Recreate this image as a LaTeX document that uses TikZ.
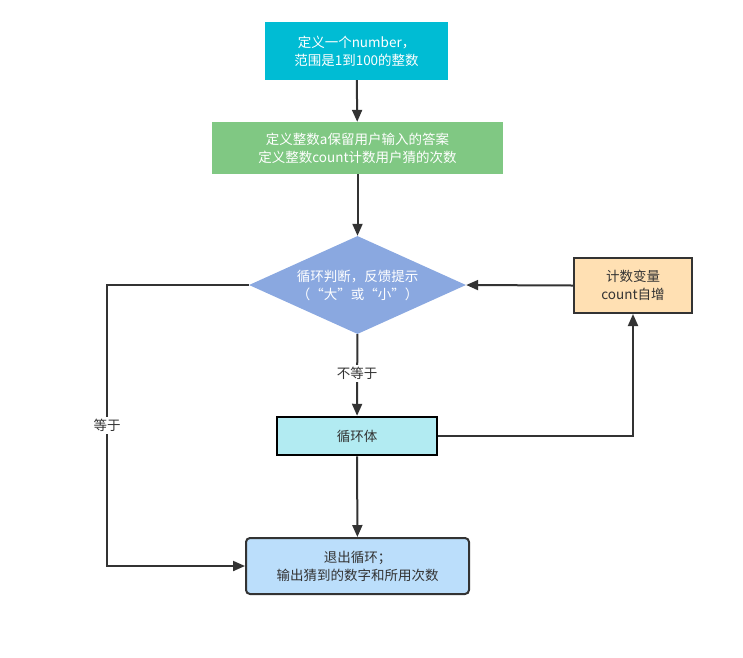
\documentclass[tikz,border=0pt]{standalone}
\usepackage{fontspec}
\setmainfont{Noto Sans CJK SC}
\usetikzlibrary{shapes.geometric,arrows.meta}
\definecolor{c1}{HTML}{00BCD4}
\definecolor{c2}{HTML}{80C883}
\definecolor{c3}{HTML}{8AA8E0}
\definecolor{c4}{HTML}{FFE0B3}
\definecolor{c5}{HTML}{B2EBF2}
\definecolor{c6}{HTML}{BBDEFB}
\definecolor{ln}{HTML}{333333}
\begin{document}
\begin{tikzpicture}[x=1pt,y=-1pt,
  font=\fontsize{13.5}{18}\selectfont,
  box/.style={draw=none,minimum width=#1,align=center,inner sep=0pt},
  arr/.style={draw=ln,line width=2pt,-{Triangle[length=12pt,width=10pt]}},
  lab/.style={fill=white,inner sep=2pt,text=ln}]
\useasboundingbox (0,0) rectangle (743,657);
\node[box=183pt,fill=c1,minimum height=58pt,text=white] (a) at (356.5,51) {定义一个number，\\范围是1到100的整数};
\node[box=291pt,fill=c2,minimum height=52pt,text=white] (b) at (357.5,148) {定义整数a保留用户输入的答案\\定义整数count计数用户猜的次数};
\node[diamond,fill=c3,minimum width=217pt,minimum height=98pt,aspect=2.2,inner sep=0pt,text=white,align=center] (c) at (357.5,285) {循环判断，反馈提示\\（“大”或“小”）};
\node[draw=ln,line width=2pt,fill=c4,minimum width=118pt,minimum height=55pt,align=center,inner sep=0pt,text=ln] (d) at (633,285.5) {计数变量\\count自增};
\node[draw=black,line width=2.5pt,fill=c5,minimum width=160pt,minimum height=38pt,inner sep=0pt,text=ln] (e) at (357,436) {循环体};
\node[draw=ln,line width=2pt,fill=c6,rounded corners=4pt,minimum width=223pt,minimum height=56pt,align=center,inner sep=0pt,text=ln] (f) at (357.5,566) {退出循环；\\输出猜到的数字和所用次数};
\draw[arr] (a) -- (b);
\draw[arr] (b) -- (c);
\draw[arr] (c) -- node[lab,pos=0.48]{不等于} (e);
\draw[arr] (e) -- (f);
\draw[arr] (e.east) -- (633,436) -- (d.south);
\draw[arr] (d.west) -- (c.east);
\draw[arr] (c.west) -- (107,285) -- node[lab,pos=0.5]{等于} (107,566) -- (f.west);
\end{tikzpicture}
\end{document}
